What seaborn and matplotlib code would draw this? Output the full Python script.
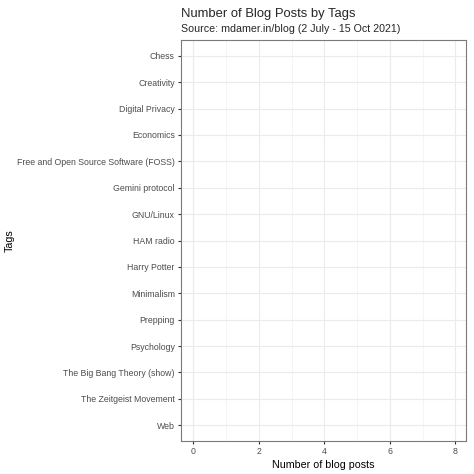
import matplotlib
matplotlib.use("Agg")
import matplotlib.pyplot as plt
import seaborn as sns
from matplotlib.ticker import MultipleLocator

tags = [
    "Chess",
    "Creativity",
    "Digital Privacy",
    "Economics",
    "Free and Open Source Software (FOSS)",
    "Gemini protocol",
    "GNU/Linux",
    "HAM radio",
    "Harry Potter",
    "Minimalism",
    "Prepping",
    "Psychology",
    "The Big Bang Theory (show)",
    "The Zeitgeist Movement",
    "Web",
]
# no bars are visible in the picture
posts = [0, 0, 0, 0, 0, 0, 0, 0, 0, 0, 0, 0, 0, 0, 0]
x_ticks = [0, 2, 4, 6, 8]

sns.set_theme(style="whitegrid")
plt.rcParams["font.family"] = ["Liberation Sans", "DejaVu Sans"]

fig = plt.figure(figsize=(4.74, 4.74), dpi=100)
ax = fig.add_axes([0.382, 0.0696, 0.601, 0.846])

sns.barplot(x=posts, y=tags, ax=ax, color="white", orient="h",
            linewidth=0, edgecolor="none")

ax.set_xlim(-0.375, 8.32)
ax.set_ylim(len(tags) - 1 + 0.6, -0.6)
ax.set_xticks(x_ticks)
ax.xaxis.set_minor_locator(MultipleLocator(1))

ax.set_facecolor("white")
ax.grid(which="major", color="#EBEBEB", linewidth=0.8)
ax.grid(which="minor", axis="x", color="#F2F2F2", linewidth=0.5)
ax.set_axisbelow(True)
for s in ax.spines.values():
    s.set_color("#7a7a7a")
    s.set_linewidth(0.8)

ax.tick_params(axis="both", which="major", length=2.5, width=0.8, color="#333333",
               labelsize=6.3, labelcolor="#4D4D4D", pad=2, left=True, bottom=True)
ax.tick_params(axis="both", which="minor", length=0)

ax.set_xlabel("Number of blog posts", fontsize=7.7, color="black", labelpad=3)
ax.set_ylabel("Tags", fontsize=7.7, color="black")
ax.yaxis.label.set_va("center")
ax.yaxis.set_label_coords(-0.6, 0.5)

fig.text(0.382, 0.965, "Number of Blog Posts by Tags", fontsize=9.4, ha="left", va="baseline")
fig.text(0.382, 0.932, "Source: mdamer.in/blog (2 July - 15 Oct 2021)", fontsize=7.7,
         ha="left", va="baseline")

fig.savefig("out.png", dpi=100)
